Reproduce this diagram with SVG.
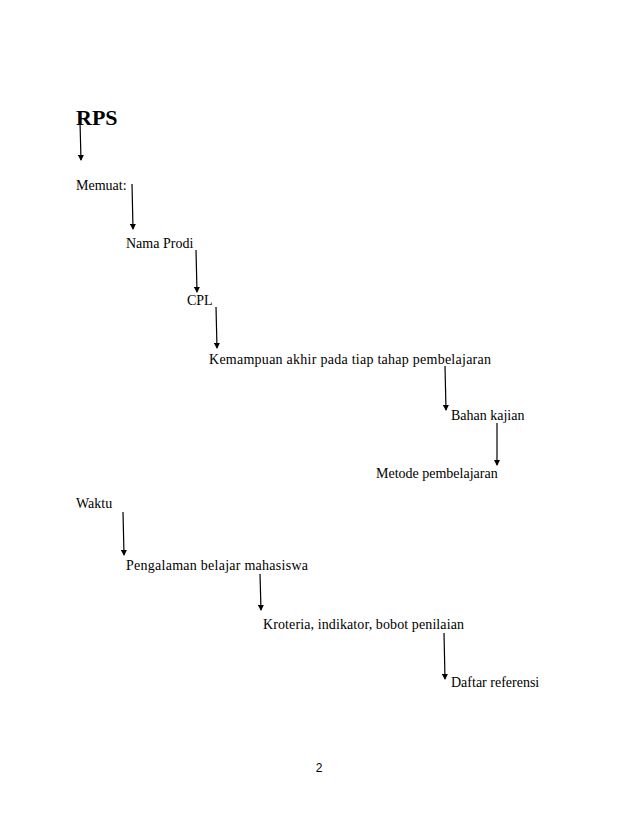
<svg xmlns="http://www.w3.org/2000/svg" width="638" height="826" viewBox="0 0 638 826">
<style>
text{font-family:"Liberation Serif","Times New Roman",serif;font-size:14px;fill:#000}
.b{font-weight:bold;font-size:22px}
.p{font-family:"Liberation Sans",Arial,sans-serif;font-size:12px}
line{stroke:#000;stroke-width:1.2}
</style>
<defs><marker id="a" markerWidth="6" markerHeight="6" refX="5" refY="3" orient="auto" markerUnits="userSpaceOnUse"><path d="M0,0L6,3L0,6z" fill="#000"/></marker></defs>
<rect width="638" height="826" fill="#fff"/>
<g id="n1"><text class="b" x="76" y="125">RPS</text></g>
<g id="n2"><text x="76" y="190">Memuat:</text></g>
<g id="n3"><text x="126" y="248">Nama Prodi</text></g>
<g id="n4"><text x="187" y="305">CPL</text></g>
<g id="n5"><text x="209" y="364" textLength="282">Kemampuan akhir pada tiap tahap pembelajaran</text></g>
<g id="n6"><text x="451" y="420">Bahan kajian</text></g>
<g id="n7"><text x="376" y="478">Metode pembelajaran</text></g>
<g id="n8"><text x="76" y="508">Waktu</text></g>
<g id="n9"><text x="126" y="570" textLength="182">Pengalaman belajar mahasiswa</text></g>
<g id="n10"><text x="263" y="629" textLength="201">Kroteria, indikator, bobot penilaian</text></g>
<g id="n11"><text x="451" y="687">Daftar referensi</text></g>
<g id="pg"><text class="p" x="319" y="772" text-anchor="middle">2</text></g>
<g id="connectors" marker-end="url(#a)">
<line x1="80" y1="122" x2="81" y2="160" marker-end="url(#a)"/>
<line x1="132" y1="184" x2="133" y2="229" marker-end="url(#a)"/>
<line x1="196" y1="250" x2="197" y2="292" marker-end="url(#a)"/>
<line x1="216" y1="307" x2="217" y2="348" marker-end="url(#a)"/>
<line x1="445" y1="366" x2="446" y2="410" marker-end="url(#a)"/>
<line x1="497" y1="423" x2="497" y2="465" marker-end="url(#a)"/>
<line x1="123" y1="512" x2="124" y2="555" marker-end="url(#a)"/>
<line x1="260" y1="574" x2="261" y2="610" marker-end="url(#a)"/>
<line x1="444" y1="633" x2="445" y2="679" marker-end="url(#a)"/>
</g>
</svg>
